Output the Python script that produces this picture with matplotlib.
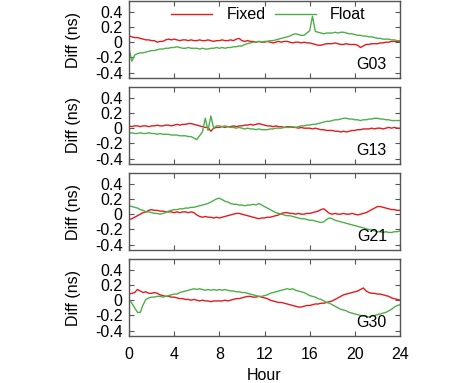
import numpy as np
import matplotlib
matplotlib.use("Agg")
import matplotlib.pyplot as plt

plt.rcParams['font.family'] = ['Liberation Sans', 'DejaVu Sans']

hours = np.arange(0, 24.01, 0.25)
panel_names = ["G03", "G13", "G21", "G30"]
x_ticks = [0, 4, 8, 12, 16, 20, 24]
y_ticks = [-0.4, -0.2, 0, 0.2, 0.4]
y_tick_labels = ["-0.4", "-0.2", "0", "0.2", "0.4"]

g03_fixed = [0.08, 0.07, 0.06, 0.06, 0.05, 0.04, 0.03, 0.03,
             0.02, 0.02, 0.00, 0.01, 0.01, 0.03, 0.04, 0.03,
             0.04, 0.03, 0.02, 0.03, 0.03, 0.02, 0.03, 0.02,
             0.02, 0.03, 0.02, 0.02, 0.03, 0.02, 0.01, 0.02,
             0.02, 0.03, 0.02, 0.02, 0.03, 0.02, 0.04, 0.05,
             0.02, 0.01, 0.02, 0.01, 0.01, 0.00, 0.01, 0.00,
             0.00, 0.01, 0.00, -0.01, 0.00, 0.01, 0.00, 0.01,
             0.01, 0.00, -0.01, 0.00, 0.00, -0.01, 0.00, -0.01,
             -0.01, -0.02, -0.03, -0.04, -0.04, -0.03, -0.02, -0.02,
             -0.02, -0.01, -0.02, -0.03, -0.03, -0.02, -0.03, -0.03,
             -0.03, -0.04, -0.07, -0.05, -0.03, -0.03, -0.02, -0.02,
             -0.02, -0.01, -0.01, 0.00, 0.00, 0.01, 0.01, 0.01,
             0.01]
g03_float = [-0.08, -0.25, -0.17, -0.15, -0.14, -0.14, -0.13, -0.12,
             -0.11, -0.11, -0.10, -0.09, -0.09, -0.08, -0.08, -0.07,
             -0.07, -0.06, -0.07, -0.08, -0.08, -0.07, -0.08, -0.08,
             -0.08, -0.09, -0.08, -0.09, -0.09, -0.08, -0.08, -0.07,
             -0.08, -0.07, -0.08, -0.07, -0.07, -0.06, -0.06, -0.05,
             -0.05, -0.03, -0.02, -0.01, 0.00, 0.00, 0.01, 0.00,
             0.01, 0.01, 0.02, 0.02, 0.03, 0.04, 0.05, 0.06,
             0.07, 0.08, 0.10, 0.11, 0.10, 0.09, 0.09, 0.12,
             0.15, 0.34, 0.14, 0.13, 0.12, 0.11, 0.12, 0.12,
             0.12, 0.13, 0.12, 0.13, 0.13, 0.12, 0.11, 0.11,
             0.10, 0.09, 0.09, 0.08, 0.08, 0.07, 0.07, 0.06,
             0.05, 0.05, 0.04, 0.04, 0.04, 0.03, 0.03, 0.02,
             0.02]
g13_fixed = [0.03, 0.02, 0.03, 0.03, 0.02, 0.03, 0.03, 0.02,
             0.03, 0.03, 0.04, 0.03, 0.03, 0.04, 0.04, 0.03,
             0.04, 0.05, 0.04, 0.05, 0.05, 0.06, 0.06, 0.05,
             0.04, 0.03, 0.02, 0.01, 0.01, -0.04, 0.00, 0.01,
             0.01, 0.02, 0.01, 0.02, 0.02, 0.03, 0.02, 0.03,
             0.03, 0.04, 0.04, 0.05, 0.04, 0.05, 0.06, 0.05,
             0.04, 0.03, 0.03, 0.02, 0.03, 0.02, 0.02, 0.01,
             0.02, 0.02, 0.01, 0.01, 0.00, 0.01, 0.00, 0.00,
             0.00, -0.01, 0.00, -0.01, -0.02, -0.02, -0.03, -0.03,
             -0.03, -0.04, -0.04, -0.05, -0.04, -0.05, -0.04, -0.03,
             -0.03, -0.02, -0.02, -0.01, -0.01, -0.01, 0.00, -0.01,
             0.00, 0.00, -0.01, 0.00, 0.01, 0.00, 0.01, 0.00,
             0.00]
g13_float = [-0.07, -0.06, -0.07, -0.07, -0.06, -0.07, -0.07, -0.06,
             -0.07, -0.07, -0.08, -0.07, -0.08, -0.08, -0.08, -0.09,
             -0.09, -0.09, -0.10, -0.10, -0.10, -0.11, -0.11, -0.13,
             -0.15, -0.10, -0.05, 0.13, -0.03, 0.16, 0.00, 0.03,
             0.03, 0.02, 0.03, 0.02, 0.01, 0.01, 0.00, 0.01,
             0.00, -0.01, 0.00, -0.01, -0.01, -0.02, -0.01, -0.02,
             -0.02, -0.02, -0.01, -0.01, 0.00, 0.00, 0.00, 0.01,
             0.01, 0.01, 0.02, 0.01, 0.02, 0.03, 0.03, 0.04,
             0.04, 0.05, 0.05, 0.06, 0.07, 0.08, 0.09, 0.09,
             0.10, 0.11, 0.11, 0.12, 0.13, 0.13, 0.12, 0.12,
             0.11, 0.11, 0.10, 0.11, 0.11, 0.12, 0.12, 0.13,
             0.13, 0.12, 0.12, 0.11, 0.11, 0.10, 0.10, 0.10,
             0.10]
g21_fixed = [-0.07, -0.06, -0.04, -0.02, 0.00, 0.02, 0.03, 0.05,
             0.06, 0.05, 0.05, 0.04, 0.04, 0.03, 0.03, 0.03,
             0.02, 0.03, 0.02, 0.03, 0.03, 0.02, 0.03, 0.02,
             -0.01, -0.03, -0.04, -0.03, -0.04, -0.04, -0.05, -0.04,
             -0.05, -0.04, -0.03, -0.02, -0.01, 0.00, 0.01, 0.01,
             0.00, -0.01, -0.02, -0.03, -0.04, -0.05, -0.06, -0.05,
             -0.05, -0.04, -0.04, -0.03, -0.02, -0.01, 0.01, 0.02,
             0.02, 0.01, 0.01, 0.00, 0.01, 0.00, 0.00, 0.01,
             0.01, 0.02, 0.03, 0.04, 0.06, 0.07, 0.04, 0.01,
             0.00, 0.01, 0.00, 0.00, 0.01, 0.00, 0.00, 0.01,
             0.00, -0.01, 0.00, 0.01, 0.02, 0.04, 0.06, 0.08,
             0.10, 0.10, 0.09, 0.08, 0.07, 0.06, 0.06, 0.05,
             0.05]
g21_float = [0.11, 0.10, 0.09, 0.08, 0.06, 0.05, 0.03, 0.03,
             0.02, 0.01, 0.01, 0.00, 0.01, 0.02, 0.04, 0.05,
             0.06, 0.06, 0.07, 0.07, 0.08, 0.08, 0.09, 0.09,
             0.10, 0.11, 0.12, 0.13, 0.14, 0.16, 0.18, 0.20,
             0.21, 0.19, 0.17, 0.16, 0.14, 0.13, 0.13, 0.12,
             0.12, 0.11, 0.12, 0.12, 0.13, 0.12, 0.14, 0.12,
             0.10, 0.08, 0.06, 0.04, 0.02, 0.01, 0.00, -0.01,
             -0.02, -0.02, -0.03, -0.04, -0.05, -0.06, -0.06, -0.07,
             -0.08, -0.08, -0.09, -0.10, -0.11, -0.10, -0.07, -0.05,
             -0.06, -0.08, -0.09, -0.10, -0.11, -0.12, -0.13, -0.14,
             -0.15, -0.16, -0.17, -0.18, -0.19, -0.20, -0.21, -0.22,
             -0.23, -0.23, -0.24, -0.23, -0.24, -0.24, -0.23, -0.23,
             -0.22]
g30_fixed = [0.08, 0.09, 0.10, 0.14, 0.12, 0.10, 0.11, 0.09,
             0.09, 0.10, 0.09, 0.07, 0.06, 0.05, 0.05, 0.04,
             0.04, 0.03, 0.02, 0.02, 0.01, 0.01, 0.00, 0.01,
             0.00, -0.01, 0.00, -0.01, -0.01, -0.02, -0.01, -0.01,
             -0.01, -0.01, 0.00, -0.01, 0.00, 0.01, 0.02, 0.02,
             0.03, 0.04, 0.05, 0.05, 0.04, 0.04, 0.05, 0.04,
             0.03, 0.02, 0.00, -0.01, -0.02, -0.03, -0.03, -0.04,
             -0.05, -0.06, -0.07, -0.08, -0.09, -0.09, -0.08, -0.07,
             -0.07, -0.06, -0.05, -0.05, -0.04, -0.04, -0.03, -0.02,
             -0.01, 0.01, 0.03, 0.05, 0.07, 0.08, 0.09, 0.10,
             0.11, 0.12, 0.14, 0.16, 0.12, 0.10, 0.09, 0.09,
             0.08, 0.08, 0.07, 0.06, 0.05, 0.03, 0.02, 0.01,
             0.00]
g30_float = [0.01, -0.04, -0.10, -0.16, -0.16, -0.06, 0.01, 0.03,
             0.04, 0.04, 0.05, 0.05, 0.04, 0.05, 0.06, 0.07,
             0.08, 0.08, 0.10, 0.11, 0.12, 0.13, 0.14, 0.15,
             0.14, 0.15, 0.14, 0.13, 0.14, 0.13, 0.14, 0.13,
             0.14, 0.13, 0.14, 0.13, 0.12, 0.12, 0.11, 0.11,
             0.10, 0.10, 0.09, 0.08, 0.07, 0.06, 0.05, 0.05,
             0.06, 0.07, 0.09, 0.10, 0.11, 0.12, 0.13, 0.14,
             0.15, 0.14, 0.15, 0.13, 0.12, 0.11, 0.10, 0.08,
             0.06, 0.05, 0.04, 0.02, 0.01, -0.01, -0.03, -0.04,
             -0.06, -0.08, -0.10, -0.12, -0.13, -0.14, -0.16, -0.17,
             -0.18, -0.19, -0.20, -0.21, -0.21, -0.22, -0.21, -0.20,
             -0.19, -0.18, -0.17, -0.16, -0.14, -0.12, -0.09, -0.07,
             -0.06]

fixed_series = [g03_fixed, g13_fixed, g21_fixed, g30_fixed]
float_series = [g03_float, g13_float, g21_float, g30_float]

RED = "#e41a1c"
GREEN = "#4daf4a"
FRAME = "#555555"
FS = 11.5

W, H = 474, 383
fig = plt.figure(figsize=(W / 100, H / 100), dpi=100)
left, right = 129, 400
tops = [1, 87, 173, 259]
ph = 77

for i in range(4):
    ax = fig.add_axes([left / W, 1 - (tops[i] + ph) / H, (right - left) / W, ph / H])
    l1, = ax.plot(hours, fixed_series[i], color=RED, lw=1.0, label="Fixed")
    l2, = ax.plot(hours, float_series[i], color=GREEN, lw=1.0, label="Float")
    ax.set_xlim(0, 24)
    ax.set_ylim(-0.47, 0.54)
    ax.set_xticks(x_ticks)
    ax.set_yticks(y_ticks)
    ax.set_yticklabels(y_tick_labels)
    ax.tick_params(direction="in", length=3.5, width=0.8, color=FRAME,
                   top=True, right=True, labelsize=FS, pad=4.5)
    for s in ax.spines.values():
        s.set_color(FRAME)
        s.set_linewidth(1.0)
    if i < 3:
        ax.set_xticklabels([])
    else:
        ax.set_xticklabels([str(t) for t in x_ticks])
        ax.tick_params(axis="x", pad=8)
        ax.set_xlabel("Hour", fontsize=FS)
        ax.xaxis.set_label_coords(0.5, -0.41)
    ax.set_ylabel("Diff (ns)", fontsize=FS)
    ax.yaxis.set_label_coords(-0.176, 0.5)
    ax.text(0.952, 0.17, panel_names[i], transform=ax.transAxes,
            ha="right", va="center", fontsize=FS)
    if i == 0:
        ax.legend(handles=[l1, l2], loc="center", bbox_to_anchor=(0.515, 0.82),
                  ncol=2, frameon=False, fontsize=FS, handlelength=2.55,
                  handletextpad=0.9, columnspacing=0.6, borderpad=0)

fig.savefig("out.png", dpi=100)
